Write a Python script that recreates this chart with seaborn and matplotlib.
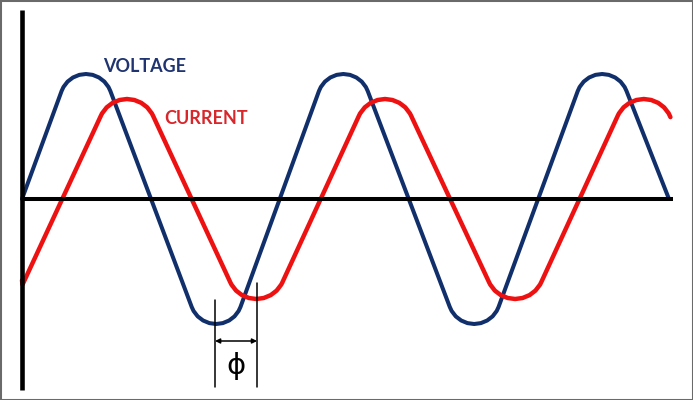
import numpy as np
import pandas as pd
import matplotlib
matplotlib.use('Agg')
import matplotlib.pyplot as plt
from matplotlib.patches import Rectangle
import seaborn as sns

# phase in degrees, amplitude with voltage peak = 1
# rounded tops of the arches (offset from peak, height)
volt_arch_dx = [-33.9, -31.3, -25.6, -18.1, -9.3, 0.0, 9.3, 18.1, 25.6, 31.3, 33.9]
volt_arch_h = [0.864, 0.896, 0.939, 0.972, 0.993, 1.0, 0.993, 0.972, 0.939, 0.896, 0.864]
curr_arch_dx = [-36.2, -34.6, -28.2, -20.0, -10.3, 0.0, 10.3, 20.0, 28.2, 34.6, 36.2]
curr_arch_h = [0.667, 0.685, 0.733, 0.769, 0.792, 0.8, 0.792, 0.769, 0.733, 0.685, 0.667]

volt_peaks = [89, 270, 447, 629, 807]
volt_signs = [1, -1, 1, -1, 1]
volt_start = (0, 0.0)
volt_end = (900, 0.0)

curr_peaks = [-34, 146, 326, 505, 686, 865]
curr_signs = [-1, 1, -1, 1, -1, 1]
curr_start = (0, -0.65)
curr_end = (902, 0.655)

x_range = (0, 900)
axis_top, axis_bottom = 1.512, -1.528
axis_right = 905


def build_wave(peaks, signs, arch_dx, arch_h, start, end):
    xs, ys = [start[0]], [start[1]]
    for p, s in zip(peaks, signs):
        for dx, h in zip(arch_dx, arch_h):
            x = p + dx
            if x_range[0] < x < x_range[1]:
                xs.append(x)
                ys.append(s * h)
    xs.append(end[0])
    ys.append(end[1])
    return xs, ys


vx, vy = build_wave(volt_peaks, volt_signs, volt_arch_dx, volt_arch_h, volt_start, volt_end)
cx, cy = build_wave(curr_peaks, curr_signs, curr_arch_dx, curr_arch_h, curr_start, curr_end)

df_v = pd.DataFrame({'phase': vx, 'value': vy})
df_c = pd.DataFrame({'phase': cx, 'value': cy})

sns.set_theme(style='white')
plt.rcParams['font.family'] = ['Lato', 'DejaVu Sans']

fig = plt.figure(figsize=(6.93, 4.0), dpi=100)
ax = fig.add_axes([0, 0, 1, 1])
ax.set_xlim(-30.6, 933.4)
ax.set_ylim(-1.608, 1.592)
ax.axis('off')

navy = '#102f6b'
red = '#ee1111'

sns.lineplot(data=df_v, x='phase', y='value', sort=False, estimator=None,
             color=navy, linewidth=2.9, ax=ax)
sns.lineplot(data=df_c, x='phase', y='value', sort=False, estimator=None,
             color=red, linewidth=3.2, ax=ax)
for ln in ax.lines:
    ln.set_solid_capstyle('round')
    ln.set_solid_joinstyle('round')

# axes drawn by hand
ax.plot([0, 0], [axis_bottom, axis_top], color='black', lw=3.3, solid_capstyle='butt')
ax.plot([0, axis_right], [0, 0], color='black', lw=2.9, solid_capstyle='butt')

ax.text(170, 1.064, 'VOLTAGE', color='#1f3470', fontsize=13, fontweight='bold',
        ha='center', va='center')
ax.text(256, 0.64, 'CURRENT', color='#d9262b', fontsize=13, fontweight='bold',
        ha='center', va='center')

# phase difference marker
v_trough = volt_peaks[1]
c_trough = curr_peaks[2]
ax.plot([v_trough - 1.5, v_trough - 1.5], [-0.808, -1.504], color='black', lw=1.1)
ax.plot([c_trough + 1, c_trough + 1], [-0.672, -1.504], color='black', lw=1.1)
ax.annotate('', xy=(c_trough + 1, -1.136), xytext=(v_trough - 1.5, -1.136),
            arrowprops=dict(arrowstyle='<|-|>', lw=1.1, color='black',
                            shrinkA=0, shrinkB=0, mutation_scale=7))
ax.text((v_trough + c_trough) / 2, -1.336, 'ϕ', fontsize=21, color='black',
        ha='center', va='center', family=['DejaVu Sans'])

fig.patches.append(Rectangle((0, 0), 1, 1, transform=fig.transFigure, fill=False,
                             edgecolor='#6a6a6a', lw=2.2))

fig.savefig('out.png', dpi=100)
